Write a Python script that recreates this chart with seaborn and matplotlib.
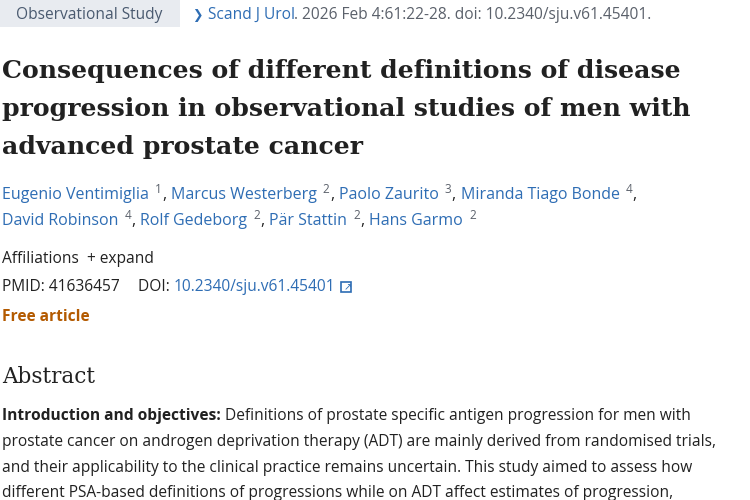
import matplotlib
matplotlib.use("Agg")
import matplotlib.pyplot as plt
import seaborn as sns
from matplotlib.patches import Rectangle

sns.set_theme(style="white")
plt.rcParams['font.family'] = ['Open Sans', 'DejaVu Sans']

BLUE = "#2e6db4"
DARK = "#212121"
ORANGE = "#b35a00"

# page content
tag = "Observational Study"
citation = ["Scand J Urol", ". 2026 Feb 4:61:22-28. doi: 10.2340/sju.v61.45401."]
title_lines = ["Consequences of different definitions of disease",
               "progression in observational studies of men with",
               "advanced prostate cancer"]
authors_line1 = [("Eugenio Ventimiglia", "1"), ("Marcus Westerberg", "2"),
                 ("Paolo Zaurito", "3"), ("Miranda Tiago Bonde", "4")]
authors_line2 = [("David Robinson", "4"), ("Rolf Gedeborg", "2"),
                 ("Pär Stattin", "2"), ("Hans Garmo", "2")]
pmid = "41636457"
doi = "10.2340/sju.v61.45401"
abstract_lead = "Introduction and objectives:"
abstract_lines = [" Definitions of prostate specific antigen progression for men with",
                  "prostate cancer on androgen deprivation therapy (ADT) are mainly derived from randomised trials,",
                  "and their applicability to the clinical practice remains uncertain. This study aimed to assess how",
                  "different PSA-based definitions of progressions while on ADT affect estimates of progression,"]

W, H = 750, 500
fig = plt.figure(figsize=(7.5, 5), dpi=100)
fig.patch.set_facecolor("white")
r = fig.canvas.get_renderer()


def put(x, y, s, **kw):
    kw.setdefault("fontsize", 11.2)
    kw.setdefault("color", DARK)
    t = fig.text(x / W, 1 - y / H, s, va="baseline", ha="left", **kw)
    bb = t.get_window_extent(r)
    return x + bb.width


# tag box
fig.patches.append(Rectangle((0, 1 - 27 / H), 180 / W, 27 / H, transform=fig.transFigure,
                             facecolor="#e8ebf0", edgecolor="none"))
put(16, 19, tag, color="#4a5a70")
x = put(193, 19, "❯ ", color=BLUE, fontsize=9, family=['DejaVu Sans'])
x = put(x, 19, citation[0], color=BLUE)
put(x, 19, citation[1], color="#5b616b")

for i, line in enumerate(title_lines):
    put(2, 78 + i * 38, line, fontsize=18.1, weight="bold", family=['DejaVu Serif'], color="#212121")


def author_row(items, y, last):
    x = 2
    for j, (name, sup) in enumerate(items):
        x = put(x, y, name, color=BLUE, fontsize=11.5)
        x = put(x + 6, y - 6, sup, fontsize=8.5, color="#5b616b")
        if j < len(items) - 1 or not last:
            x = put(x + 1, y, ", ", color=DARK, fontsize=11.5)


author_row(authors_line1, 199, False)
author_row(authors_line2, 225, True)

x = put(2, 263, "Affiliations")
put(x + 8, 263, "+ expand", fontsize=11.2)
x = put(2, 291, f"PMID: {pmid}")
x = put(x + 18, 291, "DOI: ")
x = put(x, 291, doi, color=BLUE)
# external-link icon
fig.patches.append(Rectangle(((x + 6) / W, 1 - 292 / H), 10 / W, 10 / H, transform=fig.transFigure,
                             facecolor="none", edgecolor=BLUE, linewidth=1.2))
put(x + 8, 290, "↗", color=BLUE, fontsize=7, family=['DejaVu Sans'])
put(2, 321, "Free article", color=ORANGE, weight="bold")

put(2, 383, "Abstract", fontsize=15.5, family=['DejaVu Serif'])

x = put(2, 420, abstract_lead, weight="bold")
put(x, 420, abstract_lines[0])
for i, line in enumerate(abstract_lines[1:]):
    put(2, 446 + i * 25.5, line)

fig.savefig("out.png", dpi=100)
